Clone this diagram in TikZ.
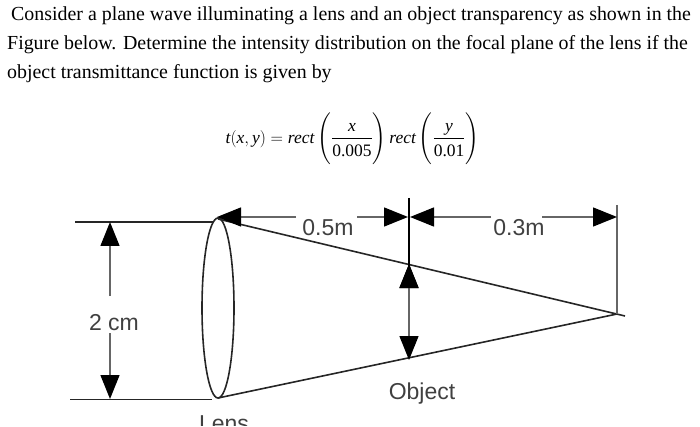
\documentclass[tikz,border=0pt]{standalone}
\usepackage{amsmath}
\usepackage{fontspec}
\setmainfont{Liberation Serif}
\newfontfamily\labelfont{Liberation Sans}
\usetikzlibrary{arrows.meta,shapes.geometric}
\newcommand{\fr}[2]{\dfrac{\rule[-3pt]{0pt}{0pt}\mbox{#1}}{\rule{0pt}{15pt}\mbox{#2}}}
\newcommand{\tallpar}{\rule[-24pt]{0pt}{48pt}}
\tikzset{
	para/.style={anchor=base west, inner sep=0pt, font=\fontsize{19.9}{19.9}\selectfont},
	lbl/.style={inner sep=0pt, text=black!75, font=\labelfont\fontsize{23}{23}\selectfont},
	dim/.style={draw=black!60, line width=1.4pt, -{Triangle[color=black,length=24pt,width=19pt]}},
	ray/.style={draw=black!85, line width=1.6pt}
}
\begin{document}
\begin{tikzpicture}[x=1pt,y=-1pt]
	\useasboundingbox (0,0) rectangle (700,427);
	\clip (0,0) rectangle (700,425);
	\node[para] (line1) at (11,21) {Consider a plane wave illuminating a lens and an object transparency as shown in the};
	\node[para] (line2) at (7,50) {Figure below. Determine the intensity distribution on the focal plane of the lens if the};
	\node[para] (line3) at (7,79) {object transmittance function is given by};
	\node[inner sep=0pt, font=\fontsize{17.5}{17.5}\selectfont] (eqn) at (352.5,140)
		{$\textit{t}(\textit{x},\textit{y})=\textit{rect}\left(\tallpar\fr{\textit{x}}{0.005}\right)\textit{rect}\left(\tallpar\fr{\textit{y}}{0.01}\right)$};
	\node[lbl] (cm) at (114,323) {2 cm};
	\node[lbl] (half) at (328,228) {0.5m};
	\node[lbl] (third) at (519,228) {0.3m};
	\node[lbl] (obj) at (422,394) {Object};
	\node[lbl] (lens) at (224,424) {Lens};
	\node[ray, draw, ellipse, minimum width=32pt, minimum height=180pt, inner sep=0pt] (lensbody) at (218,308) {};
	\coordinate (topl) at (75,222);
	\coordinate (topr) at (213,222);
	\coordinate (botl) at (70,399.5);
	\coordinate (botr) at (212,399.5);
	\coordinate (top) at (218,219);
	\coordinate (bot) at (218,398);
	\coordinate (focus) at (617,314);
	\coordinate (rayend) at (625,316);
	\path[ray]
	(topl) edge (topr)
	(botl) edge (botr)
	(top) edge (rayend)
	(bot) edge (focus);
	\coordinate (objtop) at (409,198);
	\coordinate (objtip) at (409,266);
	\coordinate (planetop) at (617,205);
	\draw[line width=1.8pt] (objtop) -- (objtip);
	\draw[draw=black!60, line width=1.4pt] (planetop) -- (focus);
	% dimension arrows
	\coordinate (a1) at (110,296);
	\coordinate (a2) at (110,222);
	\coordinate (a3) at (110,333);
	\coordinate (a4) at (110,399);
	\coordinate (b1) at (296,217);
	\coordinate (b2) at (217,217);
	\coordinate (b3) at (357,217);
	\coordinate (b4) at (408,217);
	\coordinate (c1) at (491,217);
	\coordinate (c2) at (410,217);
	\coordinate (c3) at (542,217);
	\coordinate (c4) at (617,217);
	\coordinate (d1) at (409,264);
	\coordinate (d2) at (409,360);
	\path[dim]
	(a1) edge (a2)
	(a3) edge (a4)
	(b1) edge (b2)
	(b3) edge (b4)
	(c1) edge (c2)
	(c3) edge (c4)
	(d1) edge[{Triangle[color=black,length=24pt,width=19pt]}-{Triangle[color=black,length=24pt,width=19pt]}] (d2);
\end{tikzpicture}
\end{document}
